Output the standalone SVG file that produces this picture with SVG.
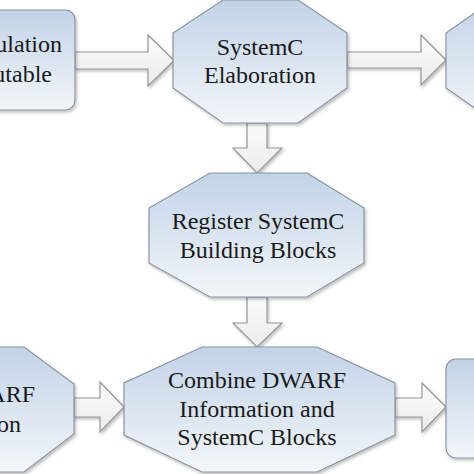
<svg xmlns="http://www.w3.org/2000/svg" width="474" height="474" viewBox="0 0 474 474">
  <defs>
    <linearGradient id="nodeGrad" x1="0" y1="0" x2="0" y2="1">
      <stop offset="0" stop-color="#c2d3e7"/>
      <stop offset="1" stop-color="#f3f6fa"/>
    </linearGradient>
    <linearGradient id="arrowGrad" x1="0" y1="0" x2="0" y2="1">
      <stop offset="0" stop-color="#fbfbfb"/>
      <stop offset="1" stop-color="#ececec"/>
    </linearGradient>
    <filter id="shadow" x="-10%" y="-10%" width="130%" height="130%">
      <feDropShadow dx="1.5" dy="2" stdDeviation="1.5" flood-color="#000" flood-opacity="0.25"/>
    </filter>
  </defs>
  <style>
    .node { fill: url(#nodeGrad); stroke: #8a94a1; stroke-width: 1.2; filter: url(#shadow); }
    .arrow { fill: url(#arrowGrad); stroke: #959595; stroke-width: 1.2; filter: url(#shadow); }
    .label { font-family: "Liberation Serif", "Times New Roman", serif; font-size: 24px; fill: #1a1a1a; text-anchor: middle; }
    .end { text-anchor: end; }
  </style>
  <rect width="474" height="474" fill="#ffffff"/>

  <g id="connectors">
    <path class="arrow" d="M75,52 H148 V35 L174,60.5 L148,86 V69 H75 Z"/>
    <path class="arrow" d="M347,52 H421 V35 L446,60 L421,85 V68 H347 Z"/>
    <path class="arrow" d="M247,123 V148 H233 L257,173 L282,148 H267 V123 Z"/>
    <path class="arrow" d="M247,297 V323 H233 L257,347 L282,323 H267 V297 Z"/>
    <path class="arrow" d="M74,398 H100 V382 L124,407 L100,432 V417 H74 Z"/>
    <path class="arrow" d="M395,398 H422 V383 L446,407 L422,432 V417 H395 Z"/>
  </g>

  <g id="node-simulation">
    <rect class="node" x="-30" y="10" width="105" height="100" rx="10" ry="10"/>
    <text class="label end" x="62" y="52">ulation</text>
    <text class="label end" x="52" y="82">utable</text>
  </g>

  <g id="node-elaboration">
    <polygon class="node" points="223,0 298,0 347,33 347,88 298,123 223,123 173,88 173,33"/>
    <text class="label" x="260" y="55">SystemC</text>
    <text class="label" x="260" y="83">Elaboration</text>
  </g>

  <g id="node-top-right">
    <polygon class="node" points="496,-2 560,-2 560,123 496,123 446,88 446,33"/>
  </g>

  <g id="node-register">
    <polygon class="node" points="210,173 307,173 364,208 364,263 307,297 210,297 149,263 149,208"/>
    <text class="label" x="258" y="229">Register SystemC</text>
    <text class="label" x="258" y="258">Building Blocks</text>
  </g>

  <g id="node-dwarf">
    <polygon class="node" points="-100,347 24,347 74,384 74,434 24,472 -100,472"/>
    <text class="label end" x="35" y="402">ARF</text>
    <text class="label end" x="21" y="432">on</text>
  </g>

  <g id="node-combine">
    <polygon class="node" points="202,347 317,347 395,383 395,435 317,472 202,472 124,435 124,383"/>
    <text class="label" x="257" y="388">Combine DWARF</text>
    <text class="label" x="257" y="417">Information and</text>
    <text class="label" x="257" y="445">SystemC Blocks</text>
  </g>

  <g id="node-bottom-right">
    <rect class="node" x="446" y="359" width="80" height="99" rx="10" ry="10"/>
  </g>
</svg>
